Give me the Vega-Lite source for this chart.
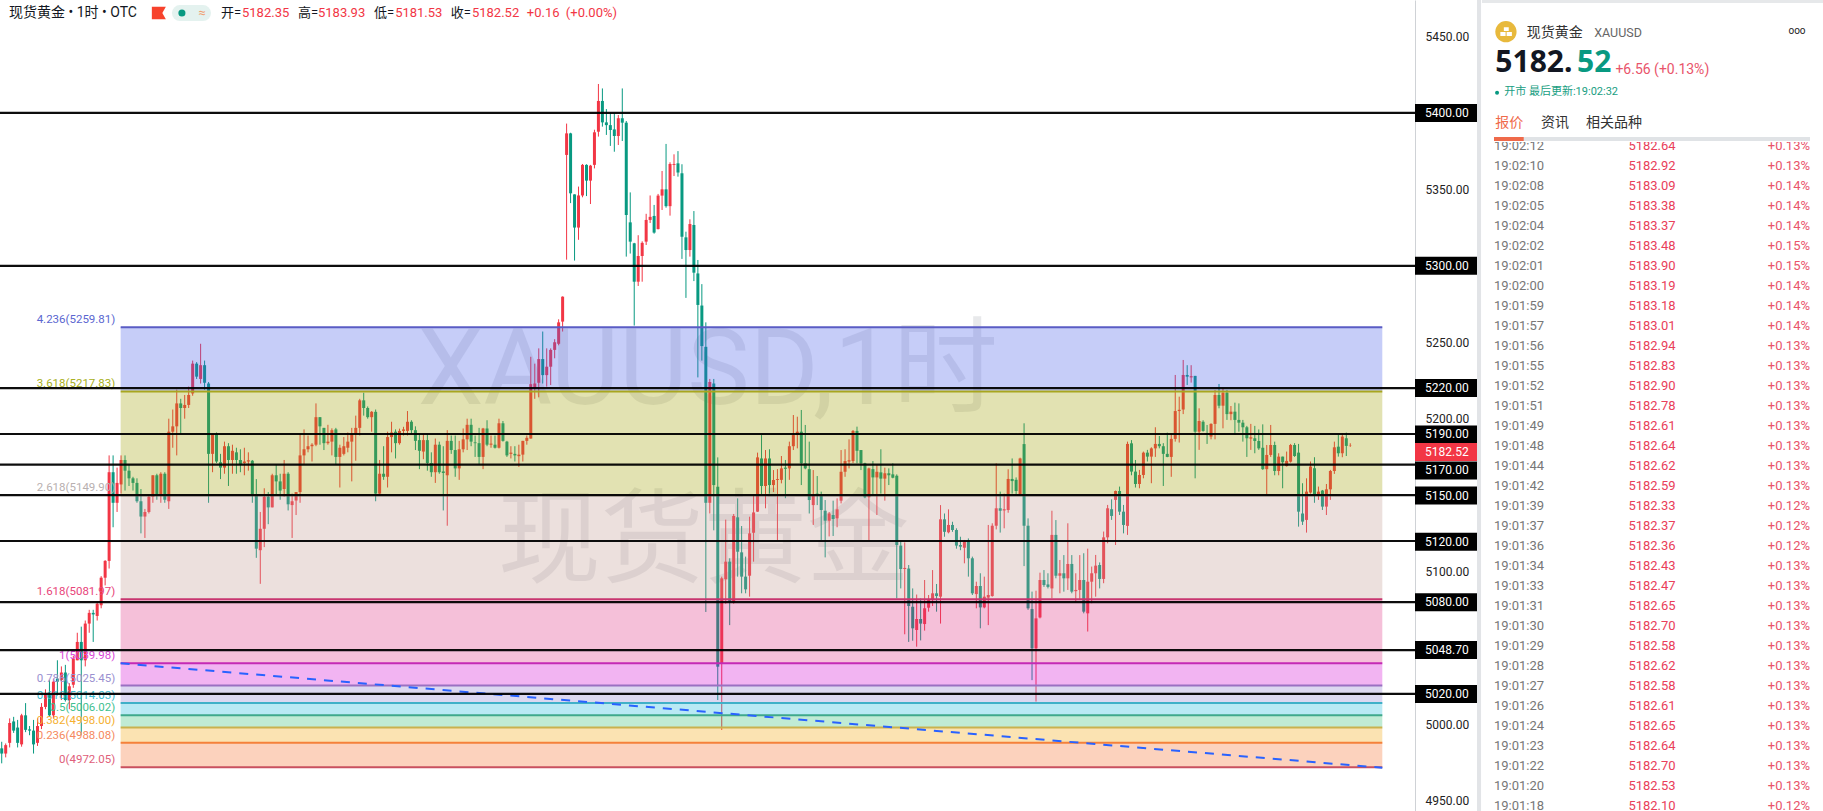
{
"$schema":"https://vega.github.io/schema/vega-lite/v6.json",
"background":"#ffffff","padding":0,"spacing":0,
"usermeta":{"embedOptions":{"actions":false}},
"config":{"view":{"stroke":null},"concat":{"spacing":0},"text":{"font":"Roboto, 'Noto Sans CJK SC'","align":"left","baseline":"middle"}},
"datasets":{
"candles":[
{"i":0,"o":4984.4,"h":4988.7,"l":4974.6,"c":4981},{"i":1,"o":4981,"h":4987.6,"l":4978.5,"c":4986.5},{"i":2,"o":4988,"h":5004,"l":4985,"c":5001},{"i":3,"o":5002,"h":5005,"l":4994.5,"c":4996},{"i":4,"o":4998,"h":5003,"l":4985,"c":4988},{"i":5,"o":4987,"h":5007,"l":4985.5,"c":5006},{"i":6,"o":5006,"h":5014,"l":4995,"c":4996.5},{"i":7,"o":4996.8,"h":4999,"l":4993,"c":4996},{"i":8,"o":4996,"h":5003,"l":4981,"c":4987},{"i":9,"o":4988,"h":5004,"l":4986,"c":4999},
{"i":10,"o":4999,"h":5014,"l":4997,"c":5011.5},{"i":11,"o":5011.5,"h":5023,"l":5010,"c":5020.5},{"i":12,"o":5020,"h":5029,"l":5005,"c":5006},{"i":13,"o":5006,"h":5030,"l":5004,"c":5028},{"i":14,"o":5030,"h":5042,"l":5019,"c":5028},{"i":15,"o":5029,"h":5038,"l":5016,"c":5034},{"i":16,"o":5034,"h":5039,"l":5015,"c":5016},{"i":17,"o":5016,"h":5027,"l":5010,"c":5025},{"i":18,"o":5026,"h":5045,"l":5024,"c":5043},{"i":19,"o":5042,"h":5060,"l":5042,"c":5054},
{"i":20,"o":5054,"h":5064,"l":4993,"c":5042},{"i":21,"o":5042,"h":5068,"l":5038,"c":5066},{"i":22,"o":5066,"h":5075,"l":5060,"c":5073},{"i":23,"o":5073,"h":5075,"l":5054,"c":5072},{"i":24,"o":5071,"h":5080,"l":5068,"c":5079},{"i":25,"o":5078,"h":5097,"l":5076,"c":5096},{"i":26,"o":5096,"h":5107.5,"l":5091,"c":5107},{"i":27,"o":5107,"h":5176,"l":5102,"c":5165},{"i":28,"o":5165,"h":5176,"l":5129,"c":5145},{"i":29,"o":5145,"h":5168,"l":5139,"c":5158},
{"i":30,"o":5157,"h":5176,"l":5151,"c":5173},{"i":31,"o":5173,"h":5176,"l":5153,"c":5166},{"i":32,"o":5166,"h":5170,"l":5156,"c":5161},{"i":33,"o":5161,"h":5162,"l":5153,"c":5158},{"i":34,"o":5158,"h":5161,"l":5145,"c":5146},{"i":35,"o":5146,"h":5154,"l":5125,"c":5136},{"i":36,"o":5136,"h":5141,"l":5122,"c":5139},{"i":37,"o":5139,"h":5150,"l":5138,"c":5149},{"i":38,"o":5149,"h":5163,"l":5145,"c":5163},{"i":39,"o":5163,"h":5164,"l":5147,"c":5150},
{"i":40,"o":5150,"h":5165,"l":5145,"c":5164},{"i":41,"o":5164,"h":5165,"l":5145,"c":5147},{"i":42,"o":5146,"h":5200,"l":5141,"c":5191.5},{"i":43,"o":5191.5,"h":5206,"l":5181,"c":5195},{"i":44,"o":5195,"h":5219,"l":5176,"c":5210},{"i":45,"o":5210,"h":5213,"l":5190,"c":5207},{"i":46,"o":5207,"h":5215.5,"l":5200,"c":5209},{"i":47,"o":5209,"h":5221,"l":5207,"c":5215.5},{"i":48,"o":5216.5,"h":5238,"l":5215,"c":5236},{"i":49,"o":5236,"h":5237,"l":5226,"c":5227.5},
{"i":50,"o":5226,"h":5249,"l":5223,"c":5235},{"i":51,"o":5235,"h":5238,"l":5219,"c":5223.5},{"i":52,"o":5223,"h":5224,"l":5145,"c":5177},{"i":53,"o":5177,"h":5190,"l":5165,"c":5190},{"i":54,"o":5190,"h":5191,"l":5171,"c":5172},{"i":55,"o":5171.5,"h":5177,"l":5160.5,"c":5168},{"i":56,"o":5168,"h":5185,"l":5164,"c":5182},{"i":57,"o":5182,"h":5184,"l":5156,"c":5173},{"i":58,"o":5173,"h":5183,"l":5164,"c":5179},{"i":59,"o":5178,"h":5181,"l":5164,"c":5173},
{"i":60,"o":5173,"h":5180,"l":5165,"c":5170},{"i":61,"o":5171,"h":5181,"l":5163,"c":5172},{"i":62,"o":5172,"h":5178,"l":5166,"c":5172.8},{"i":63,"o":5172.5,"h":5173,"l":5145,"c":5150},{"i":64,"o":5150,"h":5160.5,"l":5109,"c":5115},{"i":65,"o":5114,"h":5139,"l":5092,"c":5128},{"i":66,"o":5128,"h":5154.5,"l":5116,"c":5149},{"i":67,"o":5149,"h":5152,"l":5131,"c":5142},{"i":68,"o":5142,"h":5164,"l":5142,"c":5163},{"i":69,"o":5163,"h":5170,"l":5150,"c":5159},
{"i":70,"o":5159,"h":5164,"l":5147,"c":5153},{"i":71,"o":5154,"h":5173,"l":5149,"c":5164},{"i":72,"o":5164,"h":5165,"l":5140,"c":5144},{"i":73,"o":5143.5,"h":5151,"l":5122,"c":5146},{"i":74,"o":5146.5,"h":5152,"l":5137,"c":5152},{"i":75,"o":5152,"h":5190,"l":5145,"c":5176},{"i":76,"o":5176,"h":5193,"l":5170,"c":5180},{"i":77,"o":5180,"h":5189,"l":5178,"c":5182},{"i":78,"o":5182,"h":5184,"l":5172,"c":5183},{"i":79,"o":5183,"h":5210,"l":5182,"c":5201},
{"i":80,"o":5201,"h":5201,"l":5183,"c":5195},{"i":81,"o":5194,"h":5194,"l":5179.5,"c":5184},{"i":82,"o":5184,"h":5196,"l":5183,"c":5185},{"i":83,"o":5185,"h":5193.7,"l":5176,"c":5192.5},{"i":84,"o":5193,"h":5194,"l":5170,"c":5175},{"i":85,"o":5175,"h":5183,"l":5155,"c":5181},{"i":86,"o":5177,"h":5188,"l":5176,"c":5182},{"i":87,"o":5181,"h":5191,"l":5178,"c":5185},{"i":88,"o":5185,"h":5194,"l":5159,"c":5190},{"i":89,"o":5190,"h":5202,"l":5172.5,"c":5194},
{"i":90,"o":5194,"h":5213,"l":5189,"c":5212},{"i":91,"o":5212,"h":5217,"l":5202,"c":5207},{"i":92,"o":5207,"h":5208,"l":5200,"c":5201},{"i":93,"o":5201,"h":5205,"l":5191.5,"c":5204.5},{"i":94,"o":5204.5,"h":5206,"l":5146,"c":5151},{"i":95,"o":5151,"h":5173,"l":5150,"c":5164},{"i":96,"o":5164,"h":5182,"l":5160,"c":5162},{"i":97,"o":5162,"h":5191.5,"l":5155,"c":5188},{"i":98,"o":5188,"h":5198,"l":5178,"c":5191},{"i":99,"o":5191.5,"h":5193,"l":5174,"c":5184},
{"i":100,"o":5184,"h":5193.5,"l":5183,"c":5192},{"i":101,"o":5192,"h":5194.7,"l":5189,"c":5193},{"i":102,"o":5192,"h":5205,"l":5189,"c":5198},{"i":103,"o":5198,"h":5199,"l":5190,"c":5192.5},{"i":104,"o":5192.5,"h":5195,"l":5179.5,"c":5185.5},{"i":105,"o":5186,"h":5190,"l":5167,"c":5179},{"i":106,"o":5178.5,"h":5190,"l":5173.5,"c":5186},{"i":107,"o":5186,"h":5190,"l":5166,"c":5171},{"i":108,"o":5171,"h":5178,"l":5162,"c":5165},{"i":109,"o":5165,"h":5187,"l":5158,"c":5183},
{"i":110,"o":5183,"h":5185,"l":5164,"c":5165},{"i":111,"o":5165.5,"h":5182,"l":5140,"c":5164.5},{"i":112,"o":5163,"h":5192.5,"l":5130,"c":5185.5},{"i":113,"o":5185.5,"h":5189,"l":5177,"c":5179.5},{"i":114,"o":5179.5,"h":5189,"l":5162,"c":5167.5},{"i":115,"o":5167.5,"h":5185.5,"l":5160,"c":5180},{"i":116,"o":5180,"h":5193.6,"l":5178,"c":5186.5},{"i":117,"o":5186.5,"h":5200,"l":5179.5,"c":5196},{"i":118,"o":5196,"h":5200,"l":5182,"c":5185},{"i":119,"o":5184.5,"h":5189,"l":5175,"c":5184},
{"i":120,"o":5184,"h":5194,"l":5170,"c":5175},{"i":121,"o":5175,"h":5194,"l":5167,"c":5193.6},{"i":122,"o":5193.6,"h":5199,"l":5182,"c":5183},{"i":123,"o":5183,"h":5189,"l":5181,"c":5183.7},{"i":124,"o":5183,"h":5189,"l":5180.5,"c":5181},{"i":125,"o":5181,"h":5200,"l":5180.5,"c":5197},{"i":126,"o":5197,"h":5198.5,"l":5185,"c":5185.5},{"i":127,"o":5185,"h":5185.5,"l":5175,"c":5176},{"i":128,"o":5177,"h":5182,"l":5174,"c":5177.8},{"i":129,"o":5177,"h":5182,"l":5172,"c":5176},
{"i":130,"o":5175.5,"h":5183,"l":5168.5,"c":5176.5},{"i":131,"o":5176.5,"h":5185.5,"l":5172,"c":5185.5},{"i":132,"o":5185.5,"h":5189,"l":5183,"c":5187.5},{"i":133,"o":5187,"h":5240.5,"l":5187,"c":5222.6},{"i":134,"o":5220,"h":5236,"l":5213,"c":5223},{"i":135,"o":5223.5,"h":5246,"l":5214,"c":5239},{"i":136,"o":5239,"h":5257,"l":5223,"c":5228.5},{"i":137,"o":5228.5,"h":5246,"l":5221,"c":5234},{"i":138,"o":5234,"h":5246,"l":5222,"c":5245},{"i":139,"o":5245,"h":5252,"l":5239.5,"c":5250},
{"i":140,"o":5249,"h":5265,"l":5248,"c":5263},{"i":141,"o":5263.5,"h":5280,"l":5257,"c":5279.8},{"i":142,"o":5372.5,"h":5393,"l":5304,"c":5386.6},{"i":143,"o":5386.6,"h":5387,"l":5341,"c":5347.4},{"i":144,"o":5346.7,"h":5346.7,"l":5303.4,"c":5325},{"i":145,"o":5325,"h":5351.8,"l":5317,"c":5346},{"i":146,"o":5346,"h":5366.6,"l":5344.8,"c":5366},{"i":147,"o":5366,"h":5366.4,"l":5345.6,"c":5355.7},{"i":148,"o":5355.7,"h":5366,"l":5340.4,"c":5365.5},{"i":149,"o":5366,"h":5389,"l":5363.7,"c":5387.3},
{"i":150,"o":5387.7,"h":5418.9,"l":5384.5,"c":5407.8},{"i":151,"o":5407.8,"h":5416,"l":5391,"c":5393.8},{"i":152,"o":5393.8,"h":5402.5,"l":5385.6,"c":5392},{"i":153,"o":5392,"h":5400.4,"l":5378.4,"c":5388.8},{"i":154,"o":5389.2,"h":5399.7,"l":5374.6,"c":5384.9},{"i":155,"o":5384.9,"h":5398.6,"l":5379,"c":5396.5},{"i":156,"o":5396.5,"h":5416,"l":5381.6,"c":5393.6},{"i":157,"o":5393.6,"h":5394.7,"l":5306,"c":5333.2},{"i":158,"o":5328.4,"h":5348,"l":5308,"c":5315.8},{"i":159,"o":5314.7,"h":5315,"l":5260.9,"c":5289.6},
{"i":160,"o":5289.6,"h":5320,"l":5286.8,"c":5306.4},{"i":161,"o":5306.4,"h":5316,"l":5289.6,"c":5315},{"i":162,"o":5315.8,"h":5334,"l":5313.6,"c":5330},{"i":163,"o":5330,"h":5346,"l":5328,"c":5332},{"i":164,"o":5332.6,"h":5339.8,"l":5321,"c":5321.7},{"i":165,"o":5324,"h":5347,"l":5323.8,"c":5345.9},{"i":166,"o":5345.9,"h":5362,"l":5336.5,"c":5350},{"i":167,"o":5350,"h":5379.7,"l":5338,"c":5339},{"i":168,"o":5339,"h":5367.7,"l":5332.8,"c":5366.6},{"i":169,"o":5366,"h":5372.9,"l":5358.7,"c":5366.6},
{"i":170,"o":5367,"h":5375,"l":5358.3,"c":5361},{"i":171,"o":5360.5,"h":5366.4,"l":5304.5,"c":5319},{"i":172,"o":5318.6,"h":5322.3,"l":5279,"c":5310.3},{"i":173,"o":5310.3,"h":5330.4,"l":5306,"c":5327.3},{"i":174,"o":5326.7,"h":5335.8,"l":5290,"c":5295.5},{"i":175,"o":5295,"h":5303.8,"l":5227,"c":5274.4},{"i":176,"o":5274,"h":5288,"l":5238,"c":5247.5},{"i":177,"o":5247,"h":5263,"l":5073.6,"c":5145},{"i":178,"o":5145,"h":5226,"l":5138,"c":5224},{"i":179,"o":5223,"h":5226,"l":5127,"c":5156.6},
{"i":180,"o":5155.5,"h":5174.7,"l":5016,"c":5037.8},{"i":181,"o":5040,"h":5096.7,"l":4996.4,"c":5095.6},{"i":182,"o":5095,"h":5134,"l":5079,"c":5106.5},{"i":183,"o":5106.5,"h":5108.7,"l":5065,"c":5080},{"i":184,"o":5079.7,"h":5137.7,"l":5079,"c":5136.4},{"i":185,"o":5135.5,"h":5147.9,"l":5096.7,"c":5113},{"i":186,"o":5112.6,"h":5129.8,"l":5085.8,"c":5096.7},{"i":187,"o":5096.7,"h":5109.8,"l":5085.8,"c":5088.4},{"i":188,"o":5097.3,"h":5135.9,"l":5083.6,"c":5125},{"i":189,"o":5125.4,"h":5150,"l":5106.5,"c":5138.7},
{"i":190,"o":5139.2,"h":5177.8,"l":5139,"c":5174.7},{"i":191,"o":5174,"h":5189.3,"l":5150,"c":5156},{"i":192,"o":5156,"h":5179.5,"l":5141.4,"c":5174},{"i":193,"o":5174,"h":5180,"l":5151,"c":5156.6},{"i":194,"o":5156.6,"h":5166.4,"l":5152,"c":5159.9},{"i":195,"o":5159.9,"h":5167,"l":5120.6,"c":5160.5},{"i":196,"o":5160,"h":5175.6,"l":5157.7,"c":5167.5},{"i":197,"o":5168,"h":5173,"l":5148,"c":5167.2},{"i":198,"o":5167.5,"h":5185,"l":5160,"c":5182},{"i":199,"o":5182,"h":5202.4,"l":5179.5,"c":5189.3},
{"i":200,"o":5189.3,"h":5201.3,"l":5180.6,"c":5191.5},{"i":201,"o":5191.5,"h":5205.7,"l":5156.6,"c":5170.8},{"i":202,"o":5170.8,"h":5195.9,"l":5166.9,"c":5167.5},{"i":203,"o":5167,"h":5185,"l":5138,"c":5146.8},{"i":204,"o":5143.5,"h":5166.4,"l":5130.5,"c":5150},{"i":205,"o":5151,"h":5162.5,"l":5143.5,"c":5150.2},{"i":206,"o":5149.7,"h":5152.3,"l":5120.6,"c":5140.3},{"i":207,"o":5139.8,"h":5146.8,"l":5109.3,"c":5133.3},{"i":208,"o":5133.3,"h":5139,"l":5123,"c":5138},{"i":209,"o":5137,"h":5146.4,"l":5123.3,"c":5134.4},
{"i":210,"o":5134.8,"h":5147.9,"l":5129,"c":5140.7},{"i":211,"o":5146.4,"h":5179.5,"l":5144.6,"c":5165.3},{"i":212,"o":5165.3,"h":5180,"l":5162,"c":5172.3},{"i":213,"o":5172,"h":5186.5,"l":5167.5,"c":5172.8},{"i":214,"o":5172.3,"h":5192.6,"l":5171,"c":5192},{"i":215,"o":5192,"h":5194.8,"l":5170.8,"c":5179},{"i":216,"o":5179.5,"h":5179.5,"l":5166.4,"c":5170.8},{"i":217,"o":5170.8,"h":5171.2,"l":5148,"c":5148.6},{"i":218,"o":5148.6,"h":5168,"l":5120.6,"c":5167.5},{"i":219,"o":5167,"h":5172.3,"l":5150,"c":5161.6},
{"i":220,"o":5161.6,"h":5169.7,"l":5137,"c":5165.3},{"i":221,"o":5164.9,"h":5180,"l":5151,"c":5160.8},{"i":222,"o":5160.8,"h":5168,"l":5146.4,"c":5164.3},{"i":223,"o":5164.3,"h":5167.5,"l":5156.6,"c":5163},{"i":224,"o":5163.6,"h":5170.8,"l":5161,"c":5161.4},{"i":225,"o":5162.7,"h":5163.6,"l":5082.5,"c":5117.4},{"i":226,"o":5117,"h":5119.6,"l":5089,"c":5101.7},{"i":227,"o":5101.7,"h":5119.1,"l":5059,"c":5102.4},{"i":228,"o":5102,"h":5104.3,"l":5054,"c":5077.5},{"i":229,"o":5077,"h":5089,"l":5054.8,"c":5062.9},
{"i":230,"o":5061.8,"h":5085,"l":5050.9,"c":5069},{"i":231,"o":5069,"h":5082.5,"l":5055,"c":5066},{"i":232,"o":5065.7,"h":5094.5,"l":5061.4,"c":5076},{"i":233,"o":5076.4,"h":5084.7,"l":5073.8,"c":5081.4},{"i":234,"o":5081.4,"h":5101,"l":5077.5,"c":5085.8},{"i":235,"o":5085.8,"h":5091.9,"l":5073.8,"c":5084},{"i":236,"o":5083.6,"h":5143.5,"l":5066,"c":5134.2},{"i":237,"o":5134.2,"h":5138,"l":5122.8,"c":5126},{"i":238,"o":5125.7,"h":5140.7,"l":5125,"c":5130.5},{"i":239,"o":5130.5,"h":5132.6,"l":5126,"c":5127.2},
{"i":240,"o":5127.2,"h":5128.3,"l":5115,"c":5117},{"i":241,"o":5117.4,"h":5122.8,"l":5114,"c":5116.3},{"i":242,"o":5115.6,"h":5120.7,"l":5105.4,"c":5119.6},{"i":243,"o":5119.6,"h":5121.7,"l":5096.7,"c":5108.7},{"i":244,"o":5108.7,"h":5109.8,"l":5084.7,"c":5085.8},{"i":245,"o":5085.3,"h":5093.4,"l":5076,"c":5090.6},{"i":246,"o":5090.6,"h":5098.9,"l":5062.9,"c":5076.6},{"i":247,"o":5076.6,"h":5096.7,"l":5076,"c":5083.6},{"i":248,"o":5083,"h":5130.5,"l":5065,"c":5084.7},{"i":249,"o":5084,"h":5131.6,"l":5083.6,"c":5130},
{"i":250,"o":5130,"h":5170.8,"l":5127.6,"c":5141.4},{"i":251,"o":5141.4,"h":5152.3,"l":5125.5,"c":5139.8},{"i":252,"o":5140,"h":5151,"l":5128.3,"c":5140.8},{"i":253,"o":5140.3,"h":5166.9,"l":5138.5,"c":5160.6},{"i":254,"o":5160.6,"h":5174,"l":5151,"c":5159.2},{"i":255,"o":5160,"h":5161.6,"l":5150,"c":5152.7},{"i":256,"o":5150.5,"h":5174.5,"l":5150,"c":5174},{"i":257,"o":5183.4,"h":5197,"l":5103.6,"c":5130},{"i":258,"o":5130,"h":5134.8,"l":5075,"c":5076},{"i":259,"o":5075.5,"h":5086.9,"l":5029,"c":5049.8},
{"i":260,"o":5049.8,"h":5087.5,"l":5015,"c":5069.4},{"i":261,"o":5070,"h":5099.3,"l":5069.4,"c":5094.5},{"i":262,"o":5094.5,"h":5101,"l":5090,"c":5091.2},{"i":263,"o":5091.6,"h":5098.9,"l":5089,"c":5090},{"i":264,"o":5089,"h":5139.8,"l":5082.5,"c":5124},{"i":265,"o":5124,"h":5133.7,"l":5095.6,"c":5097.3},{"i":266,"o":5097.3,"h":5107.6,"l":5085.8,"c":5098.9},{"i":267,"o":5098.9,"h":5110.8,"l":5086.9,"c":5095.6},{"i":268,"o":5095.6,"h":5131.6,"l":5088,"c":5105},{"i":269,"o":5105,"h":5110.8,"l":5085.8,"c":5086.9},
{"i":270,"o":5087.2,"h":5098.9,"l":5080,"c":5088},{"i":271,"o":5088,"h":5110.8,"l":5081.4,"c":5094.5},{"i":272,"o":5094.5,"h":5112,"l":5072.7,"c":5073.8},{"i":273,"o":5072.7,"h":5115,"l":5060.8,"c":5093.4},{"i":274,"o":5093.4,"h":5103.3,"l":5079.3,"c":5098.9},{"i":275,"o":5098.9,"h":5110.9,"l":5083.6,"c":5103.9},{"i":276,"o":5104.3,"h":5106,"l":5089,"c":5095.2},{"i":277,"o":5095.2,"h":5126.2,"l":5092.4,"c":5122.4},{"i":278,"o":5122.4,"h":5143.6,"l":5118.5,"c":5141.4},{"i":279,"o":5140.8,"h":5147.3,"l":5133.8,"c":5136.4},
{"i":280,"o":5146.9,"h":5153,"l":5117.4,"c":5152.7},{"i":281,"o":5152.7,"h":5155.6,"l":5137,"c":5139.2},{"i":282,"o":5139.2,"h":5143.6,"l":5125,"c":5130.5},{"i":283,"o":5129.9,"h":5185,"l":5124,"c":5183.5},{"i":284,"o":5183.9,"h":5186,"l":5163,"c":5165.4},{"i":285,"o":5165.4,"h":5173,"l":5155,"c":5157.3},{"i":286,"o":5157.3,"h":5166.5,"l":5154.5,"c":5163.2},{"i":287,"o":5163.2,"h":5178.5,"l":5161,"c":5177.8},{"i":288,"o":5177.8,"h":5179.6,"l":5172,"c":5175.2},{"i":289,"o":5175.2,"h":5181.3,"l":5157.8,"c":5180.6},
{"i":290,"o":5180.6,"h":5194.4,"l":5175,"c":5183.5},{"i":291,"o":5183.5,"h":5188.7,"l":5180.6,"c":5182},{"i":292,"o":5182,"h":5184,"l":5156,"c":5177},{"i":293,"o":5177,"h":5190.9,"l":5174.8,"c":5175},{"i":294,"o":5175,"h":5190.5,"l":5162,"c":5186.8},{"i":295,"o":5186.8,"h":5228.6,"l":5185,"c":5205},{"i":296,"o":5205,"h":5214.4,"l":5184.4,"c":5205.8},{"i":297,"o":5206,"h":5238.4,"l":5203,"c":5228.6},{"i":298,"o":5228.6,"h":5235,"l":5222,"c":5227.5},{"i":299,"o":5227,"h":5235,"l":5223.6,"c":5227.8},
{"i":300,"o":5228,"h":5228,"l":5161,"c":5191.5},{"i":301,"o":5191.5,"h":5206.8,"l":5179.6,"c":5198.5},{"i":302,"o":5198,"h":5199,"l":5191.5,"c":5192},{"i":303,"o":5190.5,"h":5195.9,"l":5183.5,"c":5189.4},{"i":304,"o":5188.3,"h":5197,"l":5186.5,"c":5196.6},{"i":305,"o":5196.6,"h":5218.8,"l":5186.5,"c":5215.5},{"i":306,"o":5215.5,"h":5222.7,"l":5206.8,"c":5208.5},{"i":307,"o":5208.5,"h":5220,"l":5193.7,"c":5217},{"i":308,"o":5217,"h":5218.8,"l":5199.2,"c":5203},{"i":309,"o":5203,"h":5208.3,"l":5199,"c":5204.6},
{"i":310,"o":5204.6,"h":5210.5,"l":5189.4,"c":5199.2},{"i":311,"o":5199.2,"h":5210,"l":5191.5,"c":5197.4},{"i":312,"o":5197.4,"h":5199.2,"l":5185,"c":5194.4},{"i":313,"o":5194.4,"h":5195.3,"l":5175,"c":5187.2},{"i":314,"o":5187,"h":5196.6,"l":5179.6,"c":5187.8},{"i":315,"o":5187.2,"h":5195.3,"l":5177.4,"c":5185.4},{"i":316,"o":5185.4,"h":5193,"l":5179.6,"c":5180.6},{"i":317,"o":5181,"h":5196.3,"l":5166.5,"c":5167},{"i":318,"o":5167,"h":5182.8,"l":5150,"c":5176.3},{"i":319,"o":5176.3,"h":5195.9,"l":5175,"c":5182.8},
{"i":320,"o":5182.8,"h":5185,"l":5163,"c":5165.8},{"i":321,"o":5165.8,"h":5177.4,"l":5163,"c":5175.2},{"i":322,"o":5175.2,"h":5175.2,"l":5154.5,"c":5171.5},{"i":323,"o":5169,"h":5178.5,"l":5168.7,"c":5172.4},{"i":324,"o":5171.9,"h":5183.5,"l":5171.3,"c":5182.8},{"i":325,"o":5182.8,"h":5184,"l":5175,"c":5175.6},{"i":326,"o":5177.8,"h":5183.5,"l":5129.4,"c":5139.2},{"i":327,"o":5138,"h":5157.8,"l":5130.5,"c":5132.7},{"i":328,"o":5133.8,"h":5161,"l":5125.5,"c":5152.3},{"i":329,"o":5151.7,"h":5172,"l":5151,"c":5168.7},
{"i":330,"o":5167.6,"h":5174.8,"l":5145,"c":5149.5},{"i":331,"o":5149.5,"h":5155.6,"l":5146.9,"c":5152.3},{"i":332,"o":5153,"h":5153.4,"l":5140.3,"c":5142.5},{"i":333,"o":5142.5,"h":5157.3,"l":5137,"c":5153.8},{"i":334,"o":5153.8,"h":5166.5,"l":5146.9,"c":5165.8},{"i":335,"o":5165.8,"h":5185,"l":5163.9,"c":5181.3},{"i":336,"o":5181.7,"h":5189.4,"l":5175.2,"c":5177.4},{"i":337,"o":5177.4,"h":5190.5,"l":5174.8,"c":5188.3},{"i":338,"o":5187.2,"h":5190.9,"l":5175.6,"c":5182.2},{"i":339,"o":5182.35,"h":5183.93,"l":5181.53,"c":5182.52}
],
"fib":[
{"level":"4.236","price":5259.81,"lower":5217.83,"label":"4.236(5259.81)"},
{"level":"3.618","price":5217.83,"lower":5149.9,"label":"3.618(5217.83)"},
{"level":"2.618","price":5149.9,"lower":5081.97,"label":"2.618(5149.90)"},
{"level":"1.618","price":5081.97,"lower":5039.98,"label":"1.618(5081.97)"},
{"level":"1","price":5039.98,"lower":5025.45,"label":"1(5039.98)"},
{"level":"0.786","price":5025.45,"lower":5014.03,"label":"0.786(5025.45)"},
{"level":"0.618","price":5014.03,"lower":5006.02,"label":"0.618(5014.03)"},
{"level":"0.5","price":5006.02,"lower":4998,"label":"0.5(5006.02)"},
{"level":"0.382","price":4998,"lower":4988.08,"label":"0.382(4998.00)"},
{"level":"0.236","price":4988.08,"lower":4972.05,"label":"0.236(4988.08)"},
{"level":"0","price":4972.05,"lower":null,"label":"0(4972.05)"}
],
"levels":[
{"level":5400,"tag":5400,"kind":"line","label":"5400.00"},{"level":5300,"tag":5300,"kind":"line","label":"5300.00"},{"level":5220,"tag":5220,"kind":"line","label":"5220.00"},{"level":5190,"tag":5189.7,"kind":"line","label":"5190.00"},{"level":5170,"tag":5166.2,"kind":"line","label":"5170.00"},{"level":5150,"tag":5149.7,"kind":"line","label":"5150.00"},{"level":5120,"tag":5119.6,"kind":"line","label":"5120.00"},{"level":5080,"tag":5080,"kind":"line","label":"5080.00"},{"level":5048.7,"tag":5048.7,"kind":"line","label":"5048.70"},{"level":5020,"tag":5020,"kind":"line","label":"5020.00"},
{"level":5182.52,"tag":5178.2,"kind":"last","label":"5182.52"}
],
"head":[
{"t":"开=","i":55.1,"kind":"label"},{"t":"5182.35","i":60.4,"kind":"value"},{"t":"高=","i":74.5,"kind":"label"},{"t":"5183.93","i":79.5,"kind":"value"},{"t":"低=","i":93.6,"kind":"label"},{"t":"5181.53","i":98.9,"kind":"value"},{"t":"收=","i":112.9,"kind":"label"},{"t":"5182.52","i":118.2,"kind":"value"},{"t":"+0.16","i":132,"kind":"value"},{"t":"(+0.00%)","i":141.8,"kind":"value"}
],
"ticks":[
{"time":"19:02:12","price":5182.64,"pct":"+0.13%"},{"time":"19:02:10","price":5182.92,"pct":"+0.13%"},{"time":"19:02:08","price":5183.09,"pct":"+0.14%"},{"time":"19:02:05","price":5183.38,"pct":"+0.14%"},{"time":"19:02:04","price":5183.37,"pct":"+0.14%"},{"time":"19:02:02","price":5183.48,"pct":"+0.15%"},{"time":"19:02:01","price":5183.9,"pct":"+0.15%"},{"time":"19:02:00","price":5183.19,"pct":"+0.14%"},{"time":"19:01:59","price":5183.18,"pct":"+0.14%"},{"time":"19:01:57","price":5183.01,"pct":"+0.14%"},{"time":"19:01:56","price":5182.94,"pct":"+0.13%"},{"time":"19:01:55","price":5182.83,"pct":"+0.13%"},{"time":"19:01:52","price":5182.9,"pct":"+0.13%"},{"time":"19:01:51","price":5182.78,"pct":"+0.13%"},{"time":"19:01:49","price":5182.61,"pct":"+0.13%"},{"time":"19:01:48","price":5182.64,"pct":"+0.13%"},{"time":"19:01:44","price":5182.62,"pct":"+0.13%"},{"time":"19:01:42","price":5182.59,"pct":"+0.13%"},{"time":"19:01:39","price":5182.33,"pct":"+0.12%"},{"time":"19:01:37","price":5182.37,"pct":"+0.12%"},{"time":"19:01:36","price":5182.36,"pct":"+0.12%"},{"time":"19:01:34","price":5182.43,"pct":"+0.13%"},{"time":"19:01:33","price":5182.47,"pct":"+0.13%"},{"time":"19:01:31","price":5182.65,"pct":"+0.13%"},{"time":"19:01:30","price":5182.7,"pct":"+0.13%"},{"time":"19:01:29","price":5182.58,"pct":"+0.13%"},{"time":"19:01:28","price":5182.62,"pct":"+0.13%"},{"time":"19:01:27","price":5182.58,"pct":"+0.13%"},{"time":"19:01:26","price":5182.61,"pct":"+0.13%"},{"time":"19:01:24","price":5182.65,"pct":"+0.13%"},{"time":"19:01:23","price":5182.64,"pct":"+0.13%"},{"time":"19:01:22","price":5182.7,"pct":"+0.13%"},{"time":"19:01:20","price":5182.53,"pct":"+0.13%"},{"time":"19:01:18","price":5182.1,"pct":"+0.12%"}
],
"one":[{}]
},
"hconcat":[
{"width":1415,"height":811,
"resolve":{"scale":{"stroke":"independent","fill":"independent"}},
"layer":[
{"data":{"name":"one"},"mark":{"type":"text","text":"XAUUSD,1时","align":"center","fontSize":105,"fill":"#787b86","opacity":0.16},
"encoding":{"x":{"datum":177.5,"type":"quantitative","scale":{"domain":[-0.43,355.27],"nice":false,"zero":false,"padding":0},"axis":null},
"y":{"datum":5230.5,"type":"quantitative","scale":{"domain":[4943.43,5473.83],"nice":false,"zero":false,"padding":0},
"axis":{"orient":"right","values":[5450,5350,5250,5200,5100,5000,4950],"format":".2f","title":null,"grid":false,"ticks":false,"tickSize":0,"labelPadding":10,"labelFont":"Roboto","labelFontSize":12,"labelColor":"#222222","domain":true,"domainColor":"#cfd2d6","domainWidth":1,"labelOverlap":false,"labelFlush":false}}}},
{"data":{"name":"one"},"mark":{"type":"text","text":"现货黄金","align":"center","fontSize":103,"fill":"#787b86","opacity":0.16},
"encoding":{"x":{"datum":176.5,"type":"quantitative","axis":null},"y":{"datum":5118,"type":"quantitative"}}},
{"data":{"name":"candles"},"mark":{"type":"rule","strokeWidth":1},
"encoding":{"x":{"field":"i","type":"quantitative","axis":null},"y":{"field":"l","type":"quantitative"},"y2":{"field":"h"},
"stroke":{"condition":{"test":"datum.c>=datum.o","value":"#f23645"},"value":"#089981"}}},
{"data":{"name":"candles"},"mark":{"type":"rule","strokeWidth":3},
"encoding":{"x":{"field":"i","type":"quantitative","axis":null},"y":{"field":"o","type":"quantitative"},"y2":{"field":"c"},
"stroke":{"condition":{"test":"datum.c>=datum.o","value":"#f23645"},"value":"#089981"}}},
{"data":{"name":"fib"},"transform":[{"filter":"datum.lower!=null"}],"mark":{"type":"rect","opacity":0.3},
"encoding":{"x":{"datum":29.9,"type":"quantitative","axis":null},"x2":{"datum":347.05},"y":{"field":"price","type":"quantitative"},"y2":{"field":"lower"},
"fill":{"field":"level","type":"nominal","legend":null,"scale":{"domain":["4.236","3.618","2.618","1.618","1","0.786","0.618","0.5","0.382","0.236"],"range":["#4158e8","#9e9e00","#c0988e","#de2d81","#d405d4","#8a7dd0","#16b6da","#2dbc70","#f2a200","#f56923"]}}}},
{"data":{"name":"fib"},"mark":{"type":"rule","strokeWidth":2},
"encoding":{"x":{"datum":29.9,"type":"quantitative","axis":null},"x2":{"datum":347.05},"y":{"field":"price","type":"quantitative"},
"stroke":{"field":"level","type":"nominal","legend":null,"scale":{"domain":["4.236","3.618","2.618","1.618","1","0.786","0.618","0.5","0.382","0.236","0"],"range":["#5a5cc4","#a8a61e","#b3a58e","#c8366f","#c42ab5","#9a70c2","#40b0c8","#3fa98c","#c9b24e","#f5813a","#c9505f"]}}}},
{"data":{"name":"fib"},"mark":{"type":"text","align":"right","fontSize":11.5,"dy":-7},
"encoding":{"x":{"datum":28.55,"type":"quantitative","axis":null},"y":{"field":"price","type":"quantitative"},"text":{"field":"label"},
"fill":{"field":"level","type":"nominal","legend":null,"scale":{"domain":["4.236","3.618","2.618","1.618","1","0.786","0.618","0.5","0.382","0.236","0"],"range":["#5a66d0","#a8b020","#b8b0b0","#e8457a","#d848d8","#9a90d0","#40bcd0","#3fbf90","#f5b030","#f58a60","#e0607a"]}}}},
{"data":{"values":[{"i":29.9,"p":5040},{"i":347.05,"p":4971.7}]},"mark":{"type":"line","stroke":"#2962ff","strokeWidth":2,"strokeDash":[9,8]},
"encoding":{"x":{"field":"i","type":"quantitative","axis":null},"y":{"field":"p","type":"quantitative"}}},
{"data":{"name":"levels"},"transform":[{"filter":"datum.kind=='line'"}],"mark":{"type":"bar","orient":"horizontal","height":2.2,"fill":"#000000","opacity":0.95},
"encoding":{"x":{"datum":-0.43,"type":"quantitative","axis":null},"x2":{"datum":355.27},"y":{"field":"level","type":"quantitative"}}},
{"data":{"name":"levels"},"mark":{"type":"bar","orient":"horizontal","height":18},
"encoding":{"x":{"datum":355.27,"type":"quantitative","axis":null},"x2":{"datum":370.86},"y":{"field":"tag","type":"quantitative"},
"fill":{"field":"kind","type":"nominal","legend":null,"scale":{"domain":["line","last"],"range":["#000000","#f23645"]}}}},
{"data":{"name":"levels"},"mark":{"type":"text","fill":"#ffffff","fontSize":12,"align":"left"},
"encoding":{"x":{"datum":357.8,"type":"quantitative","axis":null},"y":{"field":"tag","type":"quantitative"},"text":{"field":"label"}}},
{"data":{"name":"one"},"mark":{"type":"rect","fill":"#e2e4e7"},
"encoding":{"x":{"datum":370.86,"type":"quantitative","axis":null},"x2":{"datum":371.87},"y":{"datum":4943.43,"type":"quantitative"},"y2":{"datum":5473.83}}},
{"data":{"name":"one"},"mark":{"type":"rule","stroke":"#e4f2ef","strokeWidth":16,"strokeCap":"round"},
"encoding":{"x":{"datum":44.8,"type":"quantitative","axis":null},"x2":{"datum":50.6},"y":{"datum":5465.3,"type":"quantitative"}}},
{"data":{"name":"one"},"mark":{"type":"point","shape":"circle","filled":true,"fill":"#089981","opacity":1,"size":50},
"encoding":{"x":{"datum":45.3,"type":"quantitative","axis":null},"y":{"datum":5465.3,"type":"quantitative"}}},
{"data":{"name":"one"},"mark":{"type":"text","text":"≈","align":"center","fontSize":13,"fill":"#f0a070"},
"encoding":{"x":{"datum":50.3,"type":"quantitative","axis":null},"y":{"datum":5465.3,"type":"quantitative"}}},
{"data":{"name":"one"},"mark":{"type":"point","shape":"M-1,-0.9H1L0.5,0L1,0.9H-1Z","filled":true,"fill":"#f7422c","opacity":1,"size":196},
"encoding":{"x":{"datum":39.5,"type":"quantitative","axis":null},"y":{"datum":5465.3,"type":"quantitative"}}},
{"data":{"name":"one"},"mark":{"type":"text","text":"现货黄金 • 1时 • OTC","fontSize":14,"fill":"#131722"},
"encoding":{"x":{"datum":1.84,"type":"quantitative","axis":null},"y":{"datum":5465.3,"type":"quantitative"}}},
{"data":{"name":"head"},"mark":{"type":"text","fontSize":13},
"encoding":{"x":{"field":"i","type":"quantitative","axis":null},"y":{"datum":5465.3,"type":"quantitative"},"text":{"field":"t"},
"fill":{"field":"kind","type":"nominal","legend":null,"scale":{"domain":["label","value"],"range":["#131722","#f23645"]}}}}
]},
{"vconcat":[
{"width":342,"height":141,
"encoding":{"x":{"type":"quantitative","scale":{"domain":[0,100],"nice":false,"zero":false},"axis":null},"y":{"type":"quantitative","scale":{"domain":[100,0],"nice":false,"zero":false},"axis":null}},
"data":{"name":"one"},
"layer":[
{"mark":{"type":"rect","fill":"#e6e8ea"},"encoding":{"x":{"datum":0,"type":"quantitative"},"x2":{"datum":100},"y":{"datum":0,"type":"quantitative"},"y2":{"datum":2.13}}},
{"mark":{"type":"point","shape":"circle","filled":true,"fill":"#e8b93c","opacity":1,"size":452},"encoding":{"x":{"datum":7,"type":"quantitative"},"y":{"datum":22.5,"type":"quantitative"}}},
{"mark":{"type":"point","shape":"M-0.3,-0.65H0.4V-0.1H-0.3ZM-0.8,0.05H-0.05V0.6H-0.8ZM0.1,0.05H0.85V0.6H0.1Z","filled":true,"fill":"#ffffff","opacity":1,"size":196},"encoding":{"x":{"datum":7,"type":"quantitative"},"y":{"datum":22.5,"type":"quantitative"}}},
{"mark":{"type":"text","text":"现货黄金","fontSize":14,"fill":"#333333"},"encoding":{"x":{"datum":13.07,"type":"quantitative"},"y":{"datum":23.2,"type":"quantitative"}}},
{"mark":{"type":"text","text":"XAUUSD","fontSize":12.5,"fill":"#666666"},"encoding":{"x":{"datum":32.8,"type":"quantitative"},"y":{"datum":23.2,"type":"quantitative"}}},
{"mark":{"type":"text","text":"ooo","fontSize":10,"align":"center","fill":"#222222"},"encoding":{"x":{"datum":92.1,"type":"quantitative"},"y":{"datum":22,"type":"quantitative"}}},
{"mark":{"type":"text","text":"5182.","font":"Noto Sans","fontWeight":"bold","fontSize":30,"fill":"#131722"},"encoding":{"x":{"datum":3.9,"type":"quantitative"},"y":{"datum":44.9,"type":"quantitative"}}},
{"mark":{"type":"text","text":"52","font":"Noto Sans","fontWeight":"bold","fontSize":30,"fill":"#089981"},"encoding":{"x":{"datum":27.8,"type":"quantitative"},"y":{"datum":44.9,"type":"quantitative"}}},
{"mark":{"type":"text","text":"+6.56 (+0.13%)","fontSize":14,"fill":"#e9546b"},"encoding":{"x":{"datum":39,"type":"quantitative"},"y":{"datum":49.6,"type":"quantitative"}}},
{"mark":{"type":"point","shape":"circle","filled":true,"fill":"#089981","opacity":1,"size":16},"encoding":{"x":{"datum":4.4,"type":"quantitative"},"y":{"datum":65.7,"type":"quantitative"}}},
{"mark":{"type":"text","text":"开市 最后更新:19:02:32","fontSize":11,"fill":"#189e82"},"encoding":{"x":{"datum":6.5,"type":"quantitative"},"y":{"datum":65.2,"type":"quantitative"}}},
{"mark":{"type":"text","text":"报价","fontSize":14,"fill":"#ef6a4a"},"encoding":{"x":{"datum":3.9,"type":"quantitative"},"y":{"datum":87,"type":"quantitative"}}},
{"mark":{"type":"text","text":"资讯","fontSize":14,"fill":"#333333"},"encoding":{"x":{"datum":17.25,"type":"quantitative"},"y":{"datum":87,"type":"quantitative"}}},
{"mark":{"type":"text","text":"相关品种","fontSize":14,"fill":"#333333"},"encoding":{"x":{"datum":30.4,"type":"quantitative"},"y":{"datum":87,"type":"quantitative"}}},
{"mark":{"type":"rule","stroke":"#e0e3e6","strokeWidth":4},"encoding":{"x":{"datum":3.5,"type":"quantitative"},"x2":{"datum":95.9},"y":{"datum":98.6,"type":"quantitative"}}},
{"mark":{"type":"rule","stroke":"#ef6a4a","strokeWidth":4},"encoding":{"x":{"datum":3.5,"type":"quantitative"},"x2":{"datum":12.2},"y":{"datum":98.6,"type":"quantitative"}}}
]},
{"width":342,"height":670,
"data":{"name":"ticks"},
"layer":[
{"mark":{"type":"text","fontSize":13,"align":"left","fill":"#777777","clip":true},
"encoding":{"x":{"datum":"time","type":"nominal","scale":{"type":"point","domain":["time","price","pct"],"range":[12,328],"padding":0},"axis":null},
"y":{"field":"time","type":"ordinal","sort":null,"scale":{"type":"point","range":[4.3,664],"padding":0},"axis":null},"text":{"field":"time"}}},
{"mark":{"type":"text","fontSize":13,"align":"center","fill":"#e9405a","clip":true},
"encoding":{"x":{"datum":"price","type":"nominal","axis":null},"y":{"field":"time","type":"ordinal","sort":null,"axis":null},"text":{"field":"price","type":"quantitative","format":".2f"}}},
{"mark":{"type":"text","fontSize":13,"align":"right","fill":"#e9546b","clip":true},
"encoding":{"x":{"datum":"pct","type":"nominal","axis":null},"y":{"field":"time","type":"ordinal","sort":null,"axis":null},"text":{"field":"pct"}}}
]}
]}
]}
